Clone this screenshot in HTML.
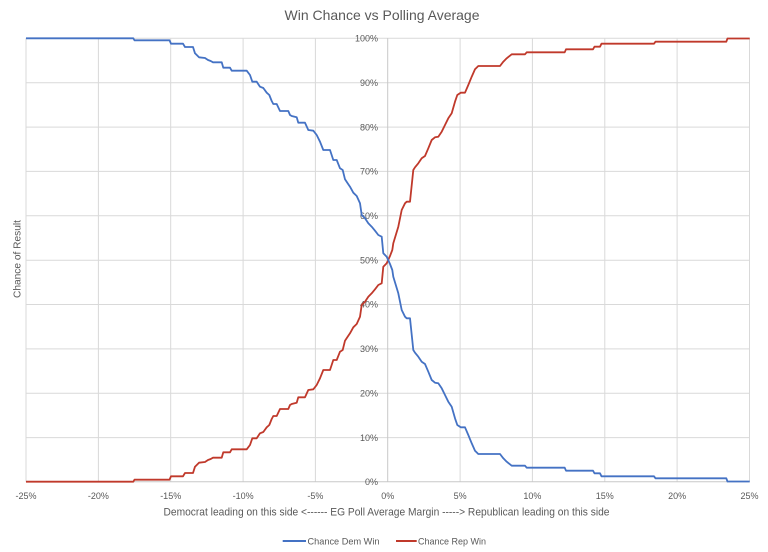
<!DOCTYPE html>
<html>
<head>
<meta charset="utf-8">
<style>
html,body{margin:0;padding:0;background:#fff;}
svg{display:block;}
text{font-family:"Liberation Sans",sans-serif;fill:#595959;}
</style>
</head>
<body>
<svg width="768" height="552" viewBox="0 0 768 552" xmlns="http://www.w3.org/2000/svg">
<rect width="768" height="552" fill="#fff"/>
<text x="382" y="20" font-size="14" text-anchor="middle" textLength="195" lengthAdjust="spacingAndGlyphs">Win Chance vs Polling Average</text>
<g stroke="#d9d9d9" stroke-width="1">
<line x1="26" y1="38.3" x2="749.7" y2="38.3"/>
<line x1="26" y1="82.7" x2="749.7" y2="82.7"/>
<line x1="26" y1="127.1" x2="749.7" y2="127.1"/>
<line x1="26" y1="171.4" x2="749.7" y2="171.4"/>
<line x1="26" y1="215.8" x2="749.7" y2="215.8"/>
<line x1="26" y1="260.2" x2="749.7" y2="260.2"/>
<line x1="26" y1="304.5" x2="749.7" y2="304.5"/>
<line x1="26" y1="348.9" x2="749.7" y2="348.9"/>
<line x1="26" y1="393.3" x2="749.7" y2="393.3"/>
<line x1="26" y1="437.6" x2="749.7" y2="437.6"/>
<line x1="26" y1="38.3" x2="26" y2="481.7"/>
<line x1="98.4" y1="38.3" x2="98.4" y2="481.7"/>
<line x1="170.7" y1="38.3" x2="170.7" y2="481.7"/>
<line x1="243.1" y1="38.3" x2="243.1" y2="481.7"/>
<line x1="315.4" y1="38.3" x2="315.4" y2="481.7"/>
<line x1="460.1" y1="38.3" x2="460.1" y2="481.7"/>
<line x1="532.4" y1="38.3" x2="532.4" y2="481.7"/>
<line x1="604.8" y1="38.3" x2="604.8" y2="481.7"/>
<line x1="677.1" y1="38.3" x2="677.1" y2="481.7"/>
<line x1="749.5" y1="38.3" x2="749.5" y2="481.7"/>
</g>
<line x1="26" y1="481.7" x2="749.7" y2="481.7" stroke="#c8c8c8" stroke-width="1"/>
<line x1="387.7" y1="38.3" x2="387.7" y2="481.7" stroke="#c8c8c8" stroke-width="1"/>
<g font-size="9" text-anchor="end">
<text x="378" y="41.5">100%</text>
<text x="378" y="86">90%</text>
<text x="378" y="130.3">80%</text>
<text x="378" y="174.6">70%</text>
<text x="378" y="219">60%</text>
<text x="378" y="263.4">50%</text>
<text x="378" y="307.7">40%</text>
<text x="378" y="352.1">30%</text>
<text x="378" y="396.5">20%</text>
<text x="378" y="440.8">10%</text>
<text x="378" y="485">0%</text>
</g>
<g font-size="9" text-anchor="middle">
<text x="26" y="499">-25%</text>
<text x="98.4" y="499">-20%</text>
<text x="170.7" y="499">-15%</text>
<text x="243.1" y="499">-10%</text>
<text x="315.4" y="499">-5%</text>
<text x="387.7" y="499">0%</text>
<text x="460.1" y="499">5%</text>
<text x="532.4" y="499">10%</text>
<text x="604.8" y="499">15%</text>
<text x="677.1" y="499">20%</text>
<text x="749.5" y="499">25%</text>
</g>
<text x="386.5" y="515.5" font-size="11" text-anchor="middle" textLength="446" lengthAdjust="spacingAndGlyphs">Democrat leading on this side &lt;------ EG Poll Average Margin -----&gt; Republican leading on this side</text>
<text transform="translate(20.5,259) rotate(-90)" font-size="10" text-anchor="middle" textLength="78" lengthAdjust="spacingAndGlyphs">Chance of Result</text>
<polyline fill="none" stroke="#C0392B" stroke-width="1.8" stroke-linejoin="round" points="26,481.7 133.3,481.7 134.5,479.7 169.5,479.7 171,476.3 183,476.3 185,473 193,473 195,466.7 199,462.7 205,462 208,460 210.7,459 213,457.7 221.7,457.7 223.3,452.3 230,452.3 231.7,449.3 246.7,449.3 250,445 252.3,438.3 256.7,438.3 260,433.3 263.3,432 266.7,427.3 269.3,425 271.7,419 273.3,416 276.7,416 280,409 288.3,409 290,405 291.7,404 296.7,402.7 298.3,397.3 305,397.3 308.3,390 313.3,389.3 316.7,385 320,378.3 323.3,370 330,370 333.3,360 336.7,360 340,351.7 342.7,350 345,340.7 347.3,337.3 350,333.3 353.3,327.3 356.7,324 360,316.7 361.7,305 365,301.7 368.3,296.7 371.7,293.3 375,289.3 378.3,285 381.7,283.3 383.3,266.7 386.7,263.3 390,256 392.3,250 393.3,243.3 398.3,226.7 401.7,210 405,203.3 406.7,201.7 410,201.7 413.3,170 415,167.3 418.3,163.3 421.7,158.3 425,156 428.3,148.3 431.7,140 435,137.3 438.3,136.7 441.7,131.7 445,125 448.3,118.3 451.7,113.3 455,101.7 457.3,95 460.7,92.7 465,92.7 468.3,85 471.7,76.7 475,69.3 478.3,66 500,66 503.3,61.7 506.7,58.3 511.7,54.3 525,54.3 526.7,52.3 564.7,52.3 566,49.3 593,49.3 594.5,46.7 600,46.7 601.5,43.7 654,43.7 655.5,41.7 726.3,41.7 727.5,38.5 749.7,38.5"/>
<polyline fill="none" stroke="#4472C4" stroke-width="1.8" stroke-linejoin="round" points="26,38.3 133.3,38.3 134.5,40.3 169.5,40.3 171,43.7 183,43.7 185,47 193,47 195,53.3 199,57.3 205,58 208,60 210.7,61 213,62.3 221.7,62.3 223.3,67.7 230,67.7 231.7,70.7 246.7,70.7 250,75 252.3,81.7 256.7,81.7 260,86.7 263.3,88 266.7,92.7 269.3,95 271.7,101 273.3,104 276.7,104 280,111 288.3,111 290,115 291.7,116 296.7,117.3 298.3,122.7 305,122.7 308.3,130 313.3,130.7 316.7,135 320,141.7 323.3,150 330,150 333.3,160 336.7,160 340,168.3 342.7,170 345,179.3 347.3,182.7 350,186.7 353.3,192.7 356.7,196 360,203.3 361.7,215 365,218.3 368.3,223.3 371.7,226.7 375,230.7 378.3,235 381.7,236.7 383.3,253.3 386.7,256.7 390,264 392.3,270 393.3,276.7 398.3,293.3 401.7,310 405,316.7 406.7,318.3 410,318.3 413.3,350 415,352.7 418.3,356.7 421.7,361.7 425,364 428.3,371.7 431.7,380 435,382.7 438.3,383.3 441.7,388.3 445,395 448.3,401.7 451.7,406.7 455,418.3 457.3,425 460.7,427.3 465,427.3 468.3,435 471.7,443.3 475,450.7 478.3,454 500,454 503.3,458.3 506.7,461.7 511.7,465.7 525,465.7 526.7,467.7 564.7,467.7 566,470.7 593,470.7 594.5,473.3 600,473.3 601.5,476.3 654,476.3 655.5,478.3 726.3,478.3 727.5,481.5 749.7,481.5"/>
<line x1="282.7" y1="541" x2="306" y2="541" stroke="#4472C4" stroke-width="2"/>
<text x="307.5" y="544.5" font-size="9.5" textLength="72" lengthAdjust="spacingAndGlyphs">Chance Dem Win</text>
<line x1="396" y1="541" x2="416.7" y2="541" stroke="#C0392B" stroke-width="2"/>
<text x="418" y="544.5" font-size="9.5" textLength="68" lengthAdjust="spacingAndGlyphs">Chance Rep Win</text>
</svg>
</body>
</html>
